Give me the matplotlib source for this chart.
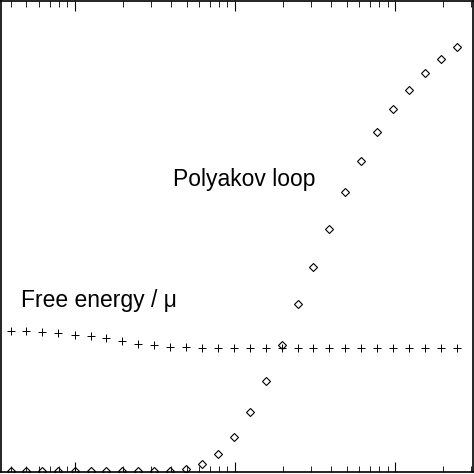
import matplotlib.pyplot as plt
import numpy as np

# x positions (log spaced)
x = [0.40, 0.50, 0.63, 0.79, 1.00, 1.26, 1.58, 1.99, 2.50, 3.14, 3.95, 4.97, 6.25,
     7.86, 9.88, 12.4, 15.6, 19.6, 24.7, 31.0, 39.0, 49.1, 61.7, 77.6, 97.6,
     122.7, 154.3, 194.0, 244.0]

# free energy / mu (plus markers)
free = [0.299, 0.299, 0.297, 0.295, 0.292, 0.288, 0.284, 0.278, 0.271, 0.269, 0.265,
        0.265, 0.263, 0.263, 0.263, 0.263, 0.263, 0.263, 0.263, 0.263, 0.263, 0.263,
        0.263, 0.263, 0.263, 0.263, 0.263, 0.263, 0.263]

# Polyakov loop (diamonds)
poly = [0.002, 0.002, 0.002, 0.002, 0.002, 0.002, 0.002, 0.002, 0.002, 0.002, 0.002,
        0.006, 0.017, 0.038, 0.074, 0.127, 0.193, 0.269, 0.356, 0.436, 0.517, 0.595,
        0.661, 0.722, 0.771, 0.811, 0.847, 0.877, 0.903]

fig = plt.figure(figsize=(4.74, 4.74), dpi=100)
ax = fig.add_axes([0.002, 0.004, 0.995, 0.994])
ax.set_xscale('log')
ax.plot(x, free, '+', color='black', ms=6, mew=0.7)
ax.plot(x, poly, 'D', mfc='none', mec='black', ms=4, mew=0.8)
ax.set_xlim(10**-0.46, 10**2.485)
ax.set_ylim(0, 1)
ax.tick_params(axis='x', which='both', direction='in', top=True, labelbottom=False)
ax.tick_params(axis='x', which='major', length=7)
ax.tick_params(axis='x', which='minor', length=4)
ax.tick_params(axis='y', left=False, labelleft=False)
for s in ax.spines.values():
    s.set_linewidth(1.2)

ax.text(0.515, 0.62, 'Polyakov loop', transform=ax.transAxes, fontsize=16.5,
        ha='center', va='center', fontfamily='Liberation Sans')
ax.text(0.042, 0.365, 'Free energy / μ', transform=ax.transAxes, fontsize=16.5,
        ha='left', va='center', fontfamily='Liberation Sans')

fig.savefig('out.png', dpi=100)
